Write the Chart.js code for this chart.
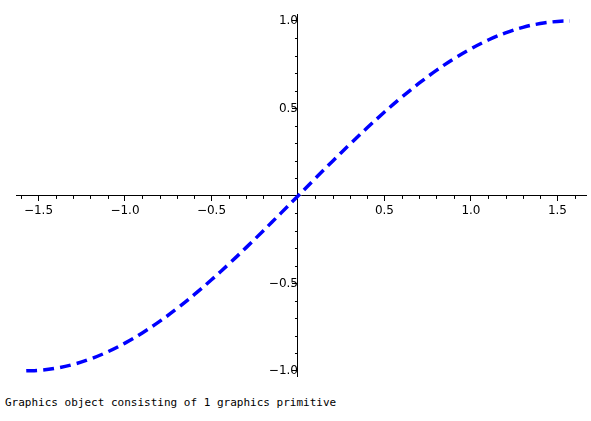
<!DOCTYPE html>
<html><head><meta charset="utf-8">
<script src="https://cdn.jsdelivr.net/npm/chart.js@4/dist/chart.umd.min.js"></script>
<style>
body{margin:0;background:#fff;width:591px;height:421px;overflow:hidden}
#wrap{position:relative;width:591px;height:390px}
#cap{font-family:"DejaVu Sans Mono",monospace;font-size:11px;color:#000;margin:6px 0 0 5px}
</style></head><body>
<div id="wrap"><canvas id="c" width="591" height="390" style="width:591px;height:390px"></canvas></div>
<div id="cap">Graphics object consisting of 1 graphics primitive</div>
<script>
const xs=[-1.5708,-1.5,-1.4,-1.3,-1.2,-1.1,-1.0,-0.9,-0.8,-0.7,-0.6,-0.5,-0.4,-0.3,-0.2,-0.1,0,0.1,0.2,0.3,0.4,0.5,0.6,0.7,0.8,0.9,1.0,1.1,1.2,1.3,1.4,1.5,1.5708];
const ys=[-1.0,-0.9975,-0.9854,-0.9636,-0.932,-0.8912,-0.8415,-0.7833,-0.7174,-0.6442,-0.5646,-0.4794,-0.3894,-0.2955,-0.1987,-0.0998,0,0.0998,0.1987,0.2955,0.3894,0.4794,0.5646,0.6442,0.7174,0.7833,0.8415,0.8912,0.932,0.9636,0.9854,0.9975,1.0];
const xTicks=[-1.5,-1.0,-0.5,0.5,1.0,1.5];
const yTicks=[-1.0,-0.5,0.5,1.0];
const fmt=v=>(v<0?'\u2212':'')+Math.abs(v).toFixed(1);
const minor={id:'minor',afterDraw(ch){
  const c=ch.ctx,x=ch.scales.x,y=ch.scales.y;const x0=x.getPixelForValue(0),y0=y.getPixelForValue(0);
  c.save();c.strokeStyle='#000';c.lineWidth=1;c.beginPath();
  for(let i=-16;i<=16;i++){if(i%5===0)continue;const p=Math.round(x.getPixelForValue(i/10))+0.5;c.moveTo(p,y0);c.lineTo(p,y0+3);}
  for(let i=-10;i<=10;i++){if(i%5===0)continue;const p=Math.round(y.getPixelForValue(i/10))+0.5;c.moveTo(x0,p);c.lineTo(x0-3,p);}
  c.stroke();c.restore();}};
Chart.defaults.font.family='"DejaVu Sans",sans-serif';
new Chart(document.getElementById('c'),{type:'line',
 data:{datasets:[{data:xs.map((v,i)=>({x:v,y:ys[i]})),borderColor:'#0000ff',borderWidth:3.5,borderDash:[11,6],pointRadius:0,tension:0.4,fill:false}]},
 options:{responsive:false,animation:false,maintainAspectRatio:false,devicePixelRatio:1,
  layout:{padding:{left:16,right:5,top:14,bottom:9}},
  plugins:{legend:{display:false},tooltip:{enabled:false}},
  scales:{
   x:{type:'linear',position:{y:0},min:-1.63,max:1.665,
    afterBuildTicks:s=>{s.ticks=xTicks.map(v=>({value:v}));},
    ticks:{callback:fmt,color:'#000',font:{size:12},maxRotation:0,autoSkip:false,padding:3},
    grid:{drawOnChartArea:false,tickLength:5,color:'#000'},border:{color:'#000'}},
   y:{type:'linear',position:{x:0},min:-1.034,max:1.04,
    afterBuildTicks:s=>{s.ticks=yTicks.map(v=>({value:v}));},
    ticks:{callback:fmt,color:'#000',font:{size:12},autoSkip:false,padding:6},
    grid:{drawOnChartArea:false,tickLength:5,color:'#000'},border:{color:'#000'}}
  }},
 plugins:[minor]});
</script>
</body></html>
